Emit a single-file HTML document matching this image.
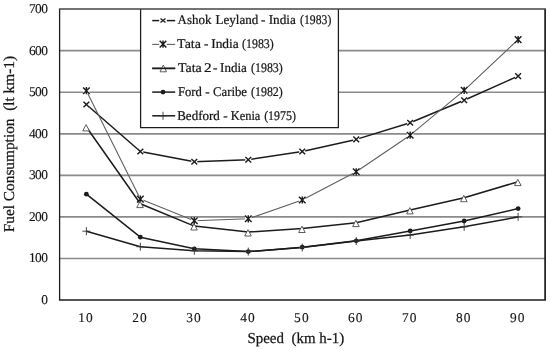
<!DOCTYPE html><html><head><meta charset="utf-8"><title>Fuel Consumption vs Speed</title>
<style>html,body{margin:0;padding:0;background:#fff}svg{display:block}text{font-family:"Liberation Serif","DejaVu Serif",serif;fill:#161616;stroke:#161616;stroke-width:0.14px;text-rendering:geometricPrecision}</style></head><body>
<svg width="550" height="349" viewBox="0 0 550 349">
<rect width="550" height="349" fill="#fff"/>
<line x1="59.4" x2="545.1" y1="50.67" y2="50.67" stroke="#8a8a8a" stroke-width="1.7"/>
<line x1="59.4" x2="545.1" y1="92.24" y2="92.24" stroke="#8a8a8a" stroke-width="1.7"/>
<line x1="59.4" x2="545.1" y1="133.81" y2="133.81" stroke="#8a8a8a" stroke-width="1.7"/>
<line x1="59.4" x2="545.1" y1="175.38" y2="175.38" stroke="#8a8a8a" stroke-width="1.7"/>
<line x1="59.4" x2="545.1" y1="216.95" y2="216.95" stroke="#8a8a8a" stroke-width="1.7"/>
<line x1="59.4" x2="545.1" y1="258.52" y2="258.52" stroke="#8a8a8a" stroke-width="1.7"/>
<polyline points="86.38,104.50 140.35,151.50 194.32,161.70 248.28,159.70 302.25,151.50 356.22,139.40 410.18,122.80 464.15,100.20 518.12,76.10" fill="none" stroke="#1c1c1c" stroke-width="1.5" stroke-linejoin="round"/>
<rect x="83.38" y="101.50" width="6.0" height="6.0" fill="#fff"/><path d="M83.48 101.70L89.28 107.30M83.48 107.30L89.28 101.70" stroke="#1c1c1c" stroke-width="1.45" fill="none"/>
<rect x="137.35" y="148.50" width="6.0" height="6.0" fill="#fff"/><path d="M137.45 148.70L143.25 154.30M137.45 154.30L143.25 148.70" stroke="#1c1c1c" stroke-width="1.45" fill="none"/>
<rect x="191.32" y="158.70" width="6.0" height="6.0" fill="#fff"/><path d="M191.42 158.90L197.22 164.50M191.42 164.50L197.22 158.90" stroke="#1c1c1c" stroke-width="1.45" fill="none"/>
<rect x="245.28" y="156.70" width="6.0" height="6.0" fill="#fff"/><path d="M245.38 156.90L251.18 162.50M245.38 162.50L251.18 156.90" stroke="#1c1c1c" stroke-width="1.45" fill="none"/>
<rect x="299.25" y="148.50" width="6.0" height="6.0" fill="#fff"/><path d="M299.35 148.70L305.15 154.30M299.35 154.30L305.15 148.70" stroke="#1c1c1c" stroke-width="1.45" fill="none"/>
<rect x="353.22" y="136.40" width="6.0" height="6.0" fill="#fff"/><path d="M353.32 136.60L359.12 142.20M353.32 142.20L359.12 136.60" stroke="#1c1c1c" stroke-width="1.45" fill="none"/>
<rect x="407.18" y="119.80" width="6.0" height="6.0" fill="#fff"/><path d="M407.28 120.00L413.08 125.60M407.28 125.60L413.08 120.00" stroke="#1c1c1c" stroke-width="1.45" fill="none"/>
<rect x="461.15" y="97.20" width="6.0" height="6.0" fill="#fff"/><path d="M461.25 97.40L467.05 103.00M461.25 103.00L467.05 97.40" stroke="#1c1c1c" stroke-width="1.45" fill="none"/>
<rect x="515.12" y="73.10" width="6.0" height="6.0" fill="#fff"/><path d="M515.22 73.30L521.02 78.90M515.22 78.90L521.02 73.30" stroke="#1c1c1c" stroke-width="1.45" fill="none"/>
<polyline points="86.38,90.70 140.35,199.10 194.32,220.70 248.28,218.80 302.25,200.00 356.22,171.80 410.18,135.20 464.15,90.30 518.12,39.60" fill="none" stroke="#606060" stroke-width="1.1" stroke-linejoin="round"/>
<rect x="83.18" y="87.50" width="6.4" height="6.4" fill="#fff"/><path d="M83.08 87.40L89.68 94.00M83.08 94.00L89.68 87.40M86.38 87.10L86.38 94.30" stroke="#1c1c1c" stroke-width="1.45" fill="none"/>
<rect x="137.15" y="195.90" width="6.4" height="6.4" fill="#fff"/><path d="M137.05 195.80L143.65 202.40M137.05 202.40L143.65 195.80M140.35 195.50L140.35 202.70" stroke="#1c1c1c" stroke-width="1.45" fill="none"/>
<rect x="191.12" y="217.50" width="6.4" height="6.4" fill="#fff"/><path d="M191.02 217.40L197.62 224.00M191.02 224.00L197.62 217.40M194.32 217.10L194.32 224.30" stroke="#1c1c1c" stroke-width="1.45" fill="none"/>
<rect x="245.08" y="215.60" width="6.4" height="6.4" fill="#fff"/><path d="M244.98 215.50L251.58 222.10M244.98 222.10L251.58 215.50M248.28 215.20L248.28 222.40" stroke="#1c1c1c" stroke-width="1.45" fill="none"/>
<rect x="299.05" y="196.80" width="6.4" height="6.4" fill="#fff"/><path d="M298.95 196.70L305.55 203.30M298.95 203.30L305.55 196.70M302.25 196.40L302.25 203.60" stroke="#1c1c1c" stroke-width="1.45" fill="none"/>
<rect x="353.02" y="168.60" width="6.4" height="6.4" fill="#fff"/><path d="M352.92 168.50L359.52 175.10M352.92 175.10L359.52 168.50M356.22 168.20L356.22 175.40" stroke="#1c1c1c" stroke-width="1.45" fill="none"/>
<rect x="406.98" y="132.00" width="6.4" height="6.4" fill="#fff"/><path d="M406.88 131.90L413.48 138.50M406.88 138.50L413.48 131.90M410.18 131.60L410.18 138.80" stroke="#1c1c1c" stroke-width="1.45" fill="none"/>
<rect x="460.95" y="87.10" width="6.4" height="6.4" fill="#fff"/><path d="M460.85 87.00L467.45 93.60M460.85 93.60L467.45 87.00M464.15 86.70L464.15 93.90" stroke="#1c1c1c" stroke-width="1.45" fill="none"/>
<rect x="514.92" y="36.40" width="6.4" height="6.4" fill="#fff"/><path d="M514.82 36.30L521.42 42.90M514.82 42.90L521.42 36.30M518.12 36.00L518.12 43.20" stroke="#1c1c1c" stroke-width="1.45" fill="none"/>
<polyline points="86.38,127.00 140.35,203.70 194.32,226.10 248.28,232.10 302.25,228.60 356.22,222.70 410.18,210.00 464.15,197.80 518.12,181.70" fill="none" stroke="#1c1c1c" stroke-width="1.5" stroke-linejoin="round"/>
<path d="M86.08 124.60L89.38 130.90L82.78 130.90Z" stroke="#4c4c4c" stroke-width="0.9" fill="#fff"/>
<path d="M140.05 201.30L143.35 207.60L136.75 207.60Z" stroke="#4c4c4c" stroke-width="0.9" fill="#fff"/>
<path d="M194.02 223.70L197.32 230.00L190.72 230.00Z" stroke="#4c4c4c" stroke-width="0.9" fill="#fff"/>
<path d="M247.98 229.70L251.28 236.00L244.68 236.00Z" stroke="#4c4c4c" stroke-width="0.9" fill="#fff"/>
<path d="M301.95 226.20L305.25 232.50L298.65 232.50Z" stroke="#4c4c4c" stroke-width="0.9" fill="#fff"/>
<path d="M355.92 220.30L359.22 226.60L352.62 226.60Z" stroke="#4c4c4c" stroke-width="0.9" fill="#fff"/>
<path d="M409.88 207.60L413.18 213.90L406.58 213.90Z" stroke="#4c4c4c" stroke-width="0.9" fill="#fff"/>
<path d="M463.85 195.40L467.15 201.70L460.55 201.70Z" stroke="#4c4c4c" stroke-width="0.9" fill="#fff"/>
<path d="M517.82 179.30L521.12 185.60L514.52 185.60Z" stroke="#4c4c4c" stroke-width="0.9" fill="#fff"/>
<polyline points="86.38,194.20 140.35,237.20 194.32,248.80 248.28,251.60 302.25,247.20 356.22,240.80 410.18,230.90 464.15,221.00 518.12,208.60" fill="none" stroke="#1c1c1c" stroke-width="1.5" stroke-linejoin="round"/>
<circle cx="86.38" cy="194.20" r="2.4" fill="#1c1c1c"/>
<circle cx="140.35" cy="237.20" r="2.4" fill="#1c1c1c"/>
<circle cx="194.32" cy="248.80" r="2.4" fill="#1c1c1c"/>
<circle cx="248.28" cy="251.60" r="2.4" fill="#1c1c1c"/>
<circle cx="302.25" cy="247.20" r="2.4" fill="#1c1c1c"/>
<circle cx="356.22" cy="240.80" r="2.4" fill="#1c1c1c"/>
<circle cx="410.18" cy="230.90" r="2.4" fill="#1c1c1c"/>
<circle cx="464.15" cy="221.00" r="2.4" fill="#1c1c1c"/>
<circle cx="518.12" cy="208.60" r="2.4" fill="#1c1c1c"/>
<polyline points="86.38,231.20 140.35,246.70 194.32,250.80 248.28,251.60 302.25,247.50 356.22,241.00 410.18,235.00 464.15,226.80 518.12,216.90" fill="none" stroke="#1c1c1c" stroke-width="1.5" stroke-linejoin="round"/>
<path d="M82.38 231.20L90.38 231.20M86.38 227.20L86.38 235.20" stroke="#333" stroke-width="0.9" fill="none"/>
<path d="M136.35 246.70L144.35 246.70M140.35 242.70L140.35 250.70" stroke="#333" stroke-width="0.9" fill="none"/>
<path d="M190.32 250.80L198.32 250.80M194.32 246.80L194.32 254.80" stroke="#333" stroke-width="0.9" fill="none"/>
<path d="M244.28 251.60L252.28 251.60M248.28 247.60L248.28 255.60" stroke="#333" stroke-width="0.9" fill="none"/>
<path d="M298.25 247.50L306.25 247.50M302.25 243.50L302.25 251.50" stroke="#333" stroke-width="0.9" fill="none"/>
<path d="M352.22 241.00L360.22 241.00M356.22 237.00L356.22 245.00" stroke="#333" stroke-width="0.9" fill="none"/>
<path d="M406.18 235.00L414.18 235.00M410.18 231.00L410.18 239.00" stroke="#333" stroke-width="0.9" fill="none"/>
<path d="M460.15 226.80L468.15 226.80M464.15 222.80L464.15 230.80" stroke="#333" stroke-width="0.9" fill="none"/>
<path d="M514.12 216.90L522.12 216.90M518.12 212.90L518.12 220.90" stroke="#333" stroke-width="0.9" fill="none"/>
<path d="M58.949999999999996 300.0H545.95" fill="none" stroke="#1c1c1c" stroke-width="1.5"/>
<path d="M59.6 9.0V300.05" fill="none" stroke="#1c1c1c" stroke-width="1.3"/>
<path d="M545.1 9.0V300.05" fill="none" stroke="#1c1c1c" stroke-width="1.7"/>
<rect x="140.6" y="9.8" width="197.80" height="117.90" fill="#fff"/>
<path d="M140.6 9.0V127.7H338.4V9.0" fill="none" stroke="#1c1c1c" stroke-width="1.25"/>
<path d="M58.949999999999996 8.95H545.95" fill="none" stroke="#444" stroke-width="1.55"/>
<line x1="152.2" x2="175.2" y1="20.6" y2="20.6" stroke="#1c1c1c" stroke-width="1.5"/>
<rect x="159.20" y="16.80" width="7.6" height="7.6" fill="#fff"/><path d="M160.50 18.60L165.50 22.60M160.50 22.60L165.50 18.60" stroke="#1c1c1c" stroke-width="1.3" fill="none"/>
<text x="177.58" y="24.3" font-size="13.2" style="stroke-width:0.22px" textLength="33.88" lengthAdjust="spacingAndGlyphs">Ashok</text>
<text x="215.58" y="24.3" font-size="13.2" style="stroke-width:0.22px" textLength="42.76" lengthAdjust="spacingAndGlyphs">Leyland</text>
<text x="261.08" y="24.3" font-size="13.2" style="stroke-width:0.22px">-</text>
<text x="268.66" y="24.3" font-size="13.2" style="stroke-width:0.22px" textLength="27.18" lengthAdjust="spacingAndGlyphs">India</text>
<text x="300.08" y="24.3" font-size="13.2" style="stroke-width:0.22px" textLength="31.22" lengthAdjust="spacingAndGlyphs">(1983)</text>
<line x1="152.2" x2="175.2" y1="44.4" y2="44.4" stroke="#606060" stroke-width="1.1"/>
<rect x="159.20" y="40.30" width="7.6" height="7.6" fill="#fff"/><path d="M159.70 40.80L166.30 47.40M159.70 47.40L166.30 40.80M163.00 40.50L163.00 47.70" stroke="#1c1c1c" stroke-width="1.45" fill="none"/>
<text x="177.08" y="48.1" font-size="13.2" style="stroke-width:0.22px" textLength="23.84" lengthAdjust="spacingAndGlyphs">Tata</text>
<text x="204.12" y="48.1" font-size="13.2" style="stroke-width:0.22px">-</text>
<text x="211.20" y="48.1" font-size="13.2" style="stroke-width:0.22px" textLength="27.60" lengthAdjust="spacingAndGlyphs">India</text>
<text x="242.00" y="48.1" font-size="13.2" style="stroke-width:0.22px" textLength="31.80" lengthAdjust="spacingAndGlyphs">(1983)</text>
<line x1="152.2" x2="175.2" y1="68.4" y2="68.4" stroke="#1c1c1c" stroke-width="1.5"/>
<path d="M163.3 65.10L166.5 71.80L160.1 71.80Z" stroke="#4c4c4c" stroke-width="0.9" fill="#fff"/>
<line x1="152.2" x2="175.2" y1="68.4" y2="68.4" stroke="#1c1c1c" stroke-width="1.5"/>
<text x="178.00" y="72.1" font-size="13.2" style="stroke-width:0.22px" textLength="23.80" lengthAdjust="spacingAndGlyphs">Tata</text>
<text x="204.12" y="72.1" font-size="13.2" style="stroke-width:0.22px" textLength="7.60" lengthAdjust="spacingAndGlyphs">2</text>
<text x="213.08" y="72.1" font-size="13.2" style="stroke-width:0.22px">-</text>
<text x="220.12" y="72.1" font-size="13.2" style="stroke-width:0.22px" textLength="26.80" lengthAdjust="spacingAndGlyphs">India</text>
<text x="251.00" y="72.1" font-size="13.2" style="stroke-width:0.22px" textLength="31.80" lengthAdjust="spacingAndGlyphs">(1983)</text>
<line x1="152.2" x2="175.2" y1="92.1" y2="92.1" stroke="#1c1c1c" stroke-width="1.5"/>
<circle cx="163.00" cy="92.10" r="2.4" fill="#1c1c1c"/>
<text x="178.00" y="95.8" font-size="13.2" style="stroke-width:0.22px" textLength="23.92" lengthAdjust="spacingAndGlyphs">Ford</text>
<text x="205.20" y="95.8" font-size="13.2" style="stroke-width:0.22px">-</text>
<text x="213.00" y="95.8" font-size="13.2" style="stroke-width:0.22px" textLength="34.00" lengthAdjust="spacingAndGlyphs">Caribe</text>
<text x="251.00" y="95.8" font-size="13.2" style="stroke-width:0.22px" textLength="31.80" lengthAdjust="spacingAndGlyphs">(1982)</text>
<line x1="152.2" x2="175.2" y1="115.8" y2="115.8" stroke="#1c1c1c" stroke-width="1.5"/>
<path d="M159.00 115.80L167.00 115.80M163.00 111.80L163.00 119.80" stroke="#333" stroke-width="0.9" fill="none"/>
<text x="177.16" y="119.5" font-size="13.2" style="stroke-width:0.22px" textLength="42.72" lengthAdjust="spacingAndGlyphs">Bedford</text>
<text x="223.24" y="119.5" font-size="13.2" style="stroke-width:0.22px">-</text>
<text x="230.66" y="119.5" font-size="13.2" style="stroke-width:0.22px" textLength="29.76" lengthAdjust="spacingAndGlyphs">Kenia</text>
<text x="264.16" y="119.5" font-size="13.2" style="stroke-width:0.22px" textLength="31.76" lengthAdjust="spacingAndGlyphs">(1975)</text>
<text x="47.9" y="13.00" font-size="13.4" text-anchor="end" textLength="19.0" lengthAdjust="spacing">700</text>
<text x="47.9" y="54.57" font-size="13.4" text-anchor="end" textLength="19.0" lengthAdjust="spacing">600</text>
<text x="47.9" y="96.14" font-size="13.4" text-anchor="end" textLength="19.0" lengthAdjust="spacing">500</text>
<text x="47.9" y="137.71" font-size="13.4" text-anchor="end" textLength="19.0" lengthAdjust="spacing">400</text>
<text x="47.9" y="179.28" font-size="13.4" text-anchor="end" textLength="19.0" lengthAdjust="spacing">300</text>
<text x="47.9" y="220.85" font-size="13.4" text-anchor="end" textLength="19.0" lengthAdjust="spacing">200</text>
<text x="47.9" y="262.42" font-size="13.4" text-anchor="end" textLength="19.0" lengthAdjust="spacing">100</text>
<text x="47.9" y="303.99" font-size="13.4" text-anchor="end">0</text>
<text x="86.03" y="321.7" font-size="13.4" letter-spacing="1.1" text-anchor="middle">10</text>
<text x="140.00" y="321.7" font-size="13.4" letter-spacing="1.1" text-anchor="middle">20</text>
<text x="193.97" y="321.7" font-size="13.4" letter-spacing="1.1" text-anchor="middle">30</text>
<text x="247.93" y="321.7" font-size="13.4" letter-spacing="1.1" text-anchor="middle">40</text>
<text x="301.90" y="321.7" font-size="13.4" letter-spacing="1.1" text-anchor="middle">50</text>
<text x="355.87" y="321.7" font-size="13.4" letter-spacing="1.1" text-anchor="middle">60</text>
<text x="409.83" y="321.7" font-size="13.4" letter-spacing="1.1" text-anchor="middle">70</text>
<text x="463.80" y="321.7" font-size="13.4" letter-spacing="1.1" text-anchor="middle">80</text>
<text x="517.77" y="321.7" font-size="13.4" letter-spacing="1.1" text-anchor="middle">90</text>
<text x="247.4" y="342.6" font-size="15.2" textLength="96.8" lengthAdjust="spacingAndGlyphs" xml:space="preserve" style="stroke-width:0.25px">Speed  (km h-1)</text>
<text transform="translate(14.2,232.3) rotate(-90)" font-size="15.2" textLength="176.4" lengthAdjust="spacingAndGlyphs" xml:space="preserve" style="stroke-width:0.25px">Fuel Consumption  (lt km-1)</text>
</svg></body></html>
